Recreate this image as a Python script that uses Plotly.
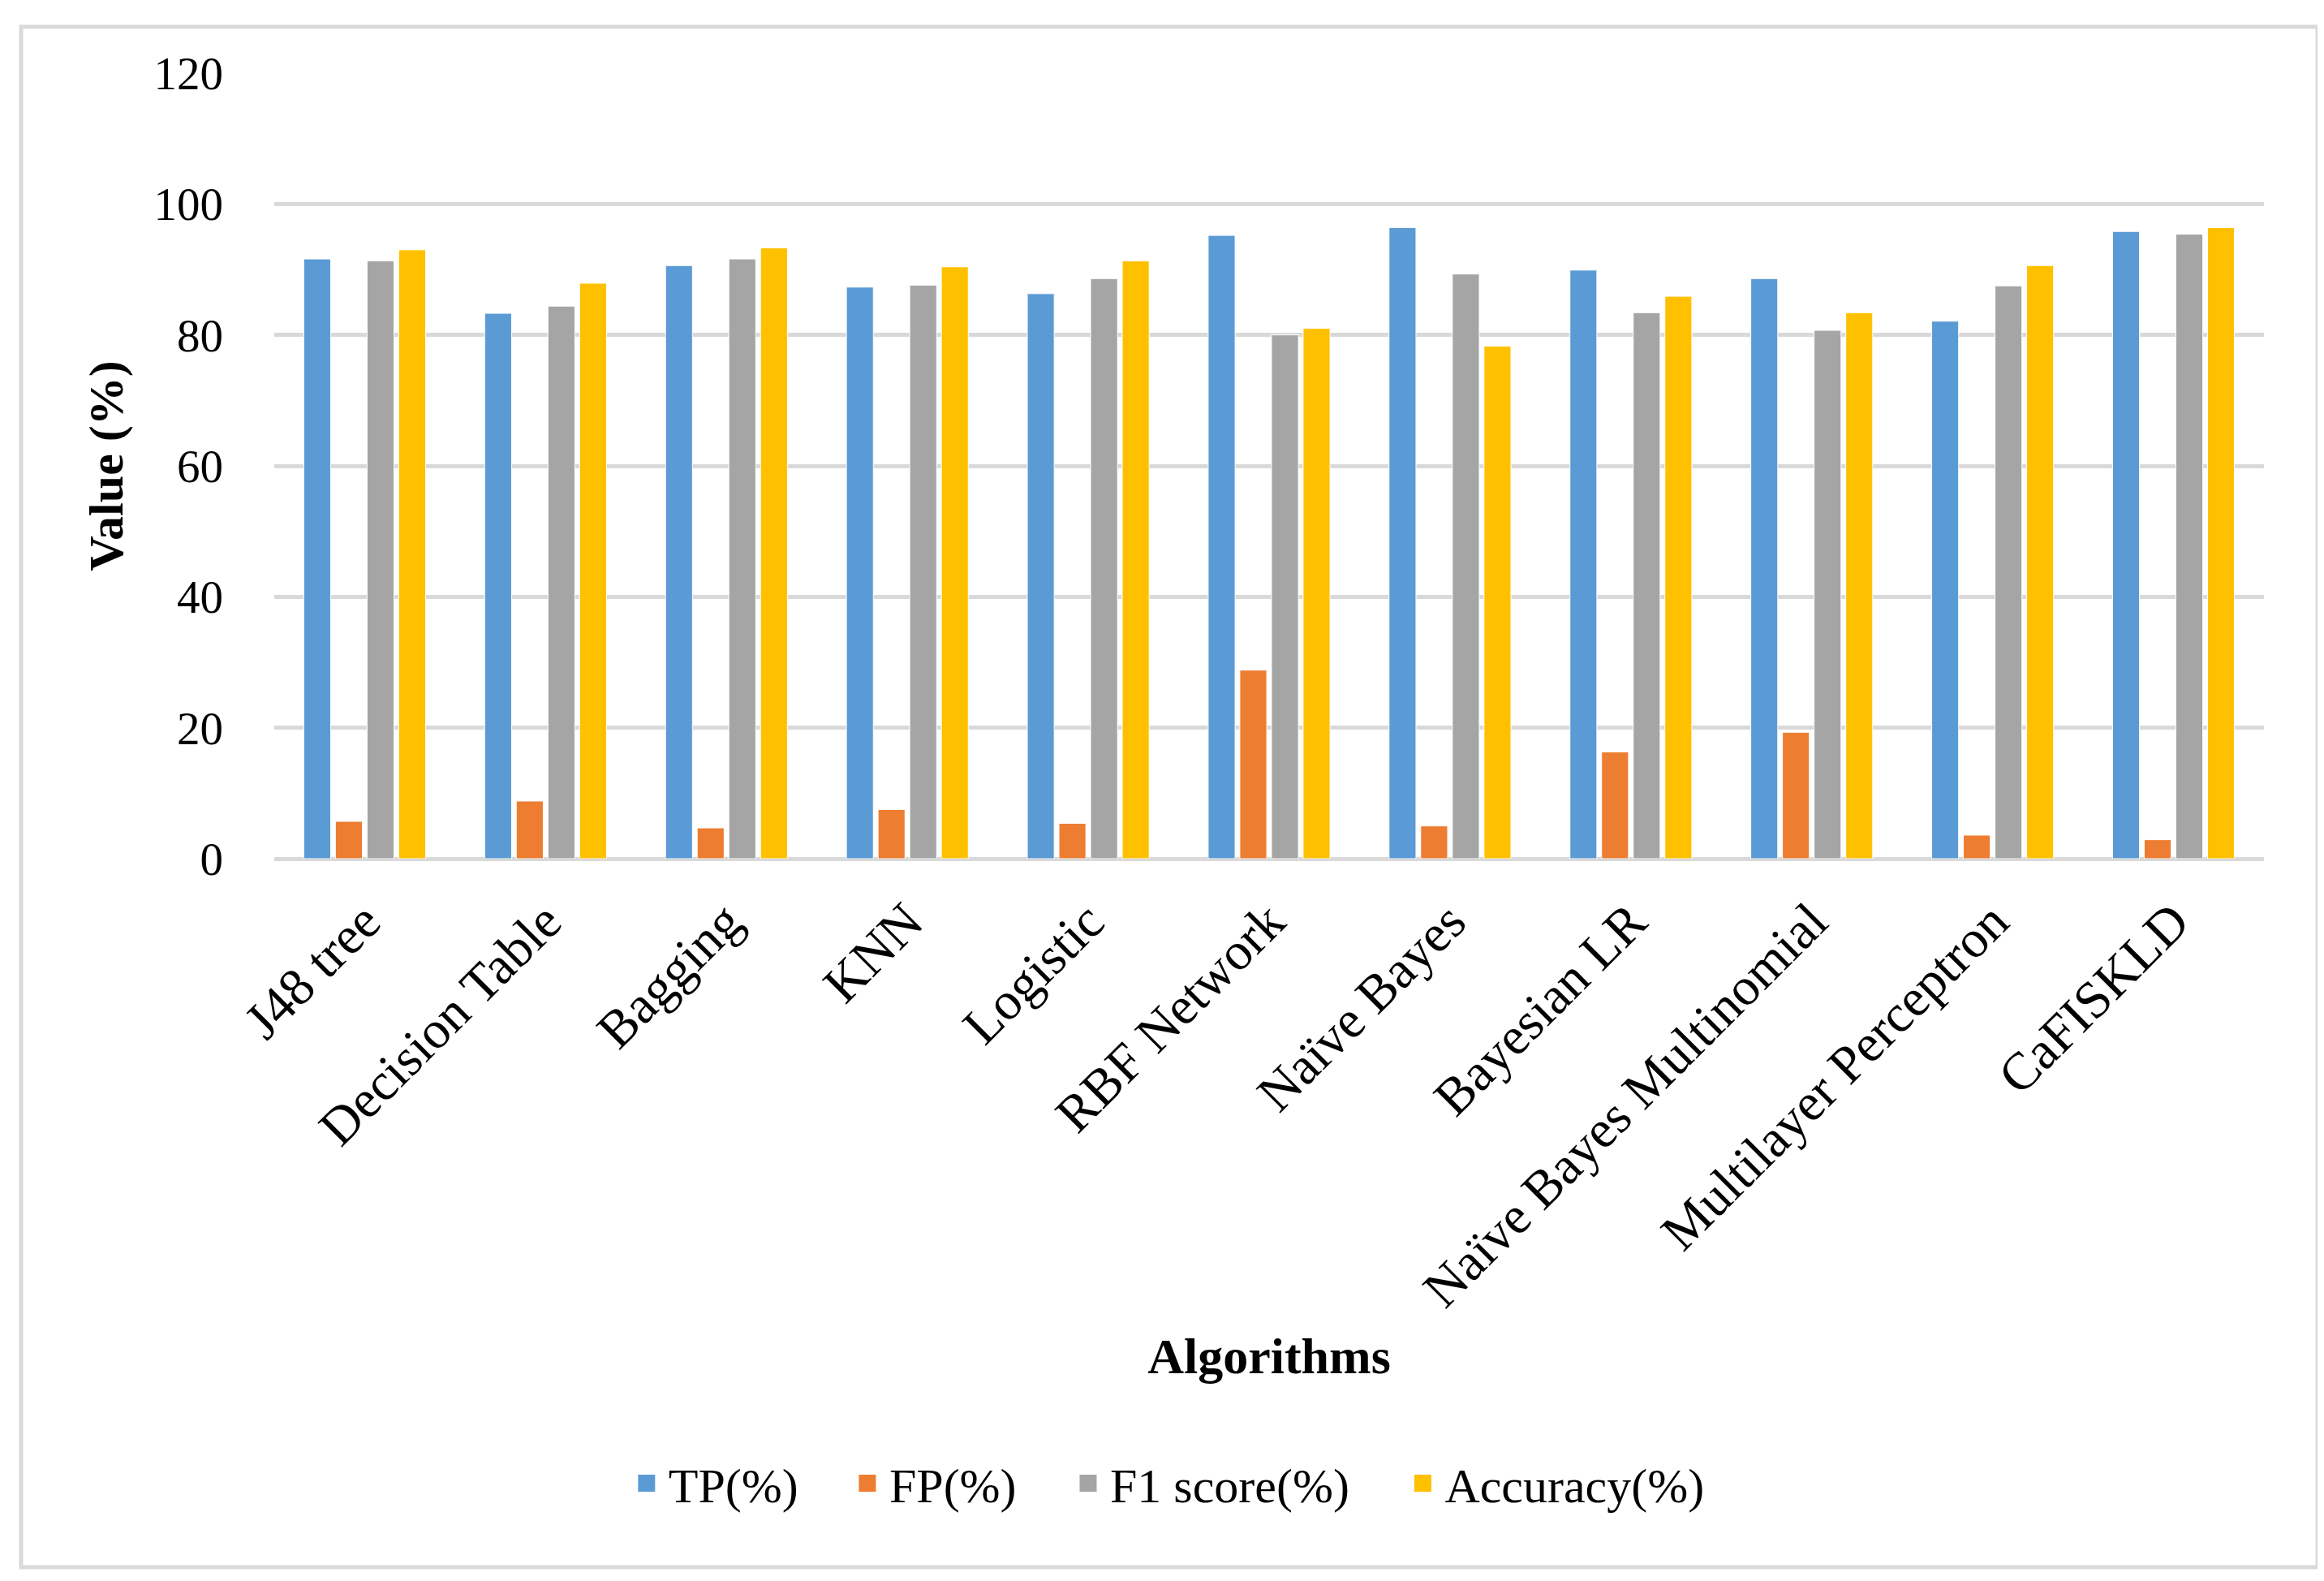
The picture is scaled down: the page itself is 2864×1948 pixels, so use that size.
import plotly.graph_objects as go

categories = ["J48 tree", "Decision Table", "Bagging", "KNN", "Logistic", "RBF Network",
              "Naïve Bayes", "Bayesian LR", "Naïve Bayes Multinomial",
              "Multilayer Perceptron", "CaFISKLD"]
tp = [91.6, 83.3, 90.6, 87.3, 86.3, 95.2, 96.4, 89.9, 88.6, 82.1, 95.8]
fp = [5.7, 8.8, 4.7, 7.5, 5.4, 28.8, 5.0, 16.3, 19.3, 3.6, 2.9]
f1 = [91.3, 84.4, 91.6, 87.6, 88.6, 80.0, 89.3, 83.4, 80.7, 87.5, 95.4]
acc = [93.0, 87.9, 93.3, 90.4, 91.3, 81.0, 78.3, 85.9, 83.4, 90.6, 96.4]

series_names = ["TP(%)", "FP(%)", "F1 score(%)", "Accuracy(%)"]
series_values = [tp, fp, f1, acc]
colors = ["#5B9BD5", "#ED7D31", "#A5A5A5", "#FFC000"]
y_ticks = [0, 20, 40, 60, 80, 100, 120]

W, H = 2864, 1948
ML, MR, MT, MB = 330, 82, 82, 898
FONT = "Liberation Serif"
legend_x = [0.266, 0.361, 0.456, 0.600]  # left edges of legend entries (container fraction)

fig = go.Figure()
for i, (name, vals, col) in enumerate(zip(series_names, series_values, colors)):
    fig.add_trace(go.Bar(x=categories, y=vals, name=name, showlegend=False,
                         marker=dict(color=col, line=dict(color="white", width=1))))
for i, (name, col) in enumerate(zip(series_names, colors)):
    lg = "legend" if i == 0 else f"legend{i + 1}"
    fig.add_trace(go.Scatter(x=[None], y=[None], mode="markers", name=name, legend=lg,
                             showlegend=True,
                             marker=dict(symbol="square", size=16, color=col,
                                         line=dict(color=col, width=5))))

pw = W - ML - MR
ph = H - MT - MB
bx0 = (18 - ML) / pw
bx1 = (2848 - ML) / pw
by0 = (H - MB - 1923) / ph
by1 = (H - MB - 25) / ph

legend_common = dict(orientation="h", xref="container", yref="container",
                     xanchor="left", y=0.066, yanchor="middle",
                     font=dict(family=FONT, size=60, color="black"),
                     itemwidth=44, bgcolor="rgba(0,0,0,0)", borderwidth=0)
layout_legends = {}
for i, lx in enumerate(legend_x):
    key = "legend" if i == 0 else f"legend{i + 1}"
    layout_legends[key] = dict(legend_common, x=lx)

fig.update_layout(
    width=W, height=H,
    margin=dict(l=ML, r=MR, t=MT, b=MB),
    paper_bgcolor="white", plot_bgcolor="white",
    barmode="group", bargap=0.30, bargroupgap=0.15,
    font=dict(family=FONT, size=56, color="black"),
    showlegend=True,
    shapes=[dict(type="rect", xref="paper", yref="paper",
                 x0=bx0, x1=bx1, y0=by0, y1=by1,
                 line=dict(color="#D9D9D9", width=5), layer="below")],
    **layout_legends,
)
fig.update_xaxes(
    tickangle=-45, tickfont=dict(family=FONT, size=65),
    showgrid=False, zeroline=False, showline=False, ticks="",
    ticklabelstandoff=25,
    title=dict(text="<b>Algorithms</b>", font=dict(family=FONT, size=62), standoff=25),
    automargin=False,
)
fig.update_yaxes(
    range=[0, 120], tickvals=y_ticks, ticktext=[str(v) for v in y_ticks],
    showgrid=True, gridcolor="#D9D9D9", gridwidth=5,
    zeroline=True, zerolinecolor="#D9D9D9", zerolinewidth=5,
    showline=False, ticks="", ticklabelstandoff=62,
    tickfont=dict(family=FONT, size=57),
    title=dict(text="<b>Value (%)</b>", font=dict(family=FONT, size=60), standoff=18),
    automargin=False,
)

fig.write_html("out.html")
